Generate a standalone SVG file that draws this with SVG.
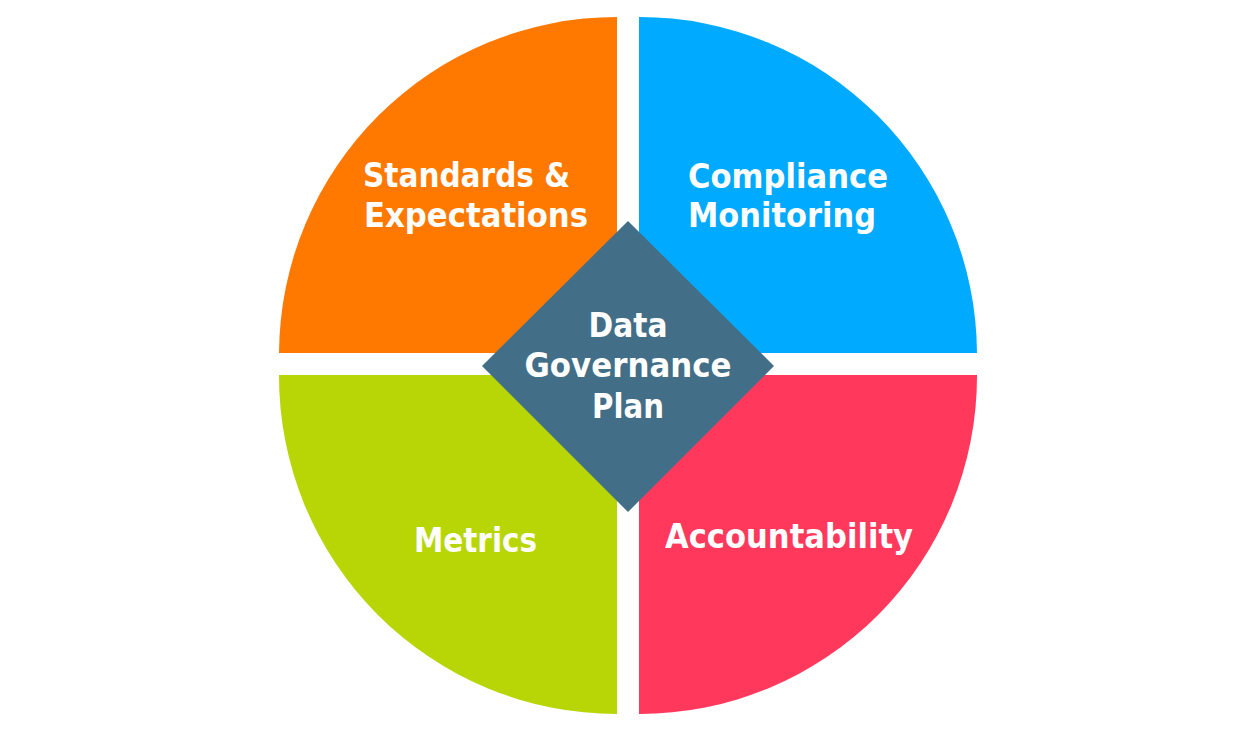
<svg xmlns="http://www.w3.org/2000/svg" width="1256" height="732" viewBox="0 0 1256 732">
<style>
.lbl{font-family:"DejaVu Sans","Liberation Sans",sans-serif;font-weight:bold;font-size:34px;fill:#ffffff}
</style>
<rect width="1256" height="732" fill="#ffffff"/>
<g id="standards">
<path d="M617,353 L279,353 A338,338 0 0 1 617,17 Z" fill="#FF7900"/>
<text class="lbl" x="363" y="187" textLength="207" lengthAdjust="spacingAndGlyphs">Standards &amp;</text>
<text class="lbl" x="364" y="227" textLength="224" lengthAdjust="spacingAndGlyphs">Expectations</text>
</g>
<g id="compliance">
<path d="M639,353 L639,17 A338,338 0 0 1 977,353 Z" fill="#00AAFF"/>
<text class="lbl" x="688" y="188" textLength="200" lengthAdjust="spacingAndGlyphs">Compliance</text>
<text class="lbl" x="688" y="227" textLength="188" lengthAdjust="spacingAndGlyphs">Monitoring</text>
</g>
<g id="metrics">
<path d="M617,375 L617,714 A338,338 0 0 1 279,375 Z" fill="#B8D606"/>
<text class="lbl" x="414" y="552" textLength="123" lengthAdjust="spacingAndGlyphs">Metrics</text>
</g>
<g id="accountability">
<path d="M639,375 L977,375 A338,338 0 0 1 639,714 Z" fill="#FF385C"/>
<text class="lbl" x="665" y="548" textLength="248" lengthAdjust="spacingAndGlyphs">Accountability</text>
</g>
<g id="plan">
<path d="M628,221 L774,366 L628,512 L482,366 Z" fill="#436E87"/>
<text class="lbl" x="628" y="337" text-anchor="middle" textLength="79" lengthAdjust="spacingAndGlyphs">Data</text>
<text class="lbl" x="628" y="377" text-anchor="middle" textLength="207" lengthAdjust="spacingAndGlyphs">Governance</text>
<text class="lbl" x="628" y="418" text-anchor="middle" textLength="72" lengthAdjust="spacingAndGlyphs">Plan</text>
</g>
<g id="connectors"></g>
</svg>
